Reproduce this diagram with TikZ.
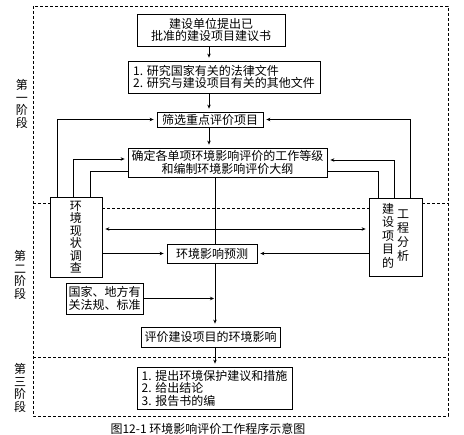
\documentclass[tikz,border=0pt]{standalone}
\usepackage{fontspec}
\setmainfont{Noto Sans CJK SC}
\usepackage{tikz}
\usetikzlibrary{positioning,arrows.meta,calc}
\newcommand{\cjksize}{\fontsize{12pt}{12.5pt}\selectfont}
\newcommand{\colstack}[1]{\begin{tabular}{@{}c@{}}#1\end{tabular}}
\tikzset{
  box/.style={draw,line width=0.8pt,inner sep=0pt,align=center,font=\cjksize},
  flow/.style={-{Stealth[length=4pt,width=3.5pt]},line width=0.8pt,shorten >=3pt},
  wire/.style={line width=0.8pt},
  stageline/.style={line width=0.8pt,dash pattern=on 3pt off 2pt},
  stagename/.style={align=center,font=\cjksize,inner sep=0pt}
}

\begin{document}
\begin{tikzpicture}[x=1pt,y=-1pt]
  \useasboundingbox (0,0) rectangle (464,435);
  % stage one
  \node[box,minimum width=148,minimum height=32] (proposal) at (211,30) {建设单位提出已\\批准的建设项目建议书};
  \node[box,align=left,minimum width=192,minimum height=32] (study) at (224,77) {1. 研究国家有关的法律文件\\2. 研究与建设项目有关的其他文件};
  \node[box,minimum width=106,minimum height=15] (screen) at (210,119.5) {筛选重点评价项目};
  \node[box,minimum width=199,minimum height=29] (grade) at (227.5,162.5) {确定各单项环境影响评价的工作等级\\和编制环境影响评价大纲};
  % stage two
  \node[box,minimum width=52,minimum height=80] (survey) at (76,237) {环\\境\\现\\状\\调\\查};
  \node[box,minimum width=53,minimum height=78] (project) at (395.5,237) {\colstack{建\\设\\项\\目\\的}\hspace{3pt}\colstack{工\\程\\分\\析}};
  \node[box,minimum width=90,minimum height=19] (predict) at (212,253.5) {环境影响预测};
  \node[box,minimum width=77,minimum height=31] (law) at (104.5,298.5) {国家、地方有\\关法规、标准};
  \node[box,minimum width=139,minimum height=20] (assess) at (210.5,337) {评价建设项目的环境影响};
  % stage three
  \node[box,align=left,minimum width=155,minimum height=42] (report) at (214.5,388) {1. 提出环境保护建议和措施\\2. 给出结论\\3. 报告书的编};
  % stage names and caption
  \node[stagename] (stage1) at (22,104) {第\\一\\阶\\段};
  \node[stagename] (stage2) at (20,275) {第\\二\\阶\\段};
  \node[stagename] (stage3) at (20,388) {第\\三\\阶\\段};
  \node[stagename] (caption) at (208,429) {图12-1\ 环境影响评价工作程序示意图};

  % dashed frame
  \coordinate (cut) at (0,203);
  \coordinate (cutin) at (0,208);
  \draw[stageline] (33,6) rectangle (448,416);
  \draw[stageline] (33,203) -- (survey.west |- cut);
  \draw[stageline] (project.east |- cut) -- (448,203);
  \draw[stageline] (survey.east |- cutin) -- (project.west |- cutin);
  \draw[stageline] (33,357) -- (448,357);

  % main flow
  \coordinate (axis) at (209,0);
  \coordinate (spine) at (215,0);
  \draw[flow] (proposal.south -| axis) -- (study.north -| axis);
  \draw[flow] (study.south -| axis) -- (screen.north -| axis);
  \draw[flow] (screen.south -| axis) -- (grade.north -| axis);
  \draw[wire] (grade.south -| spine) -- (predict.north -| spine);
  \draw[flow] (predict.south -| spine) -- (assess.north -| spine);
  \draw[flow] (assess.south -| spine) -- (report.north -| spine);
  \draw[flow,shorten >=1pt] (law.east) -- (law.east -| spine);

  % feedback from the survey
  \draw[flow] ([xshift=8pt]survey.north west) |- (screen.west);
  \draw[flow] ([xshift=24pt]survey.north west) |- ([yshift=3.5pt]grade.west);
  \draw[wire] ([xshift=41pt]survey.north west) |- ([yshift=-8.5pt]grade.west);
  % feedback from the project analysis
  \draw[flow] ([xshift=-12pt]project.north east) |- (screen.east);
  \draw[flow] ([xshift=-28pt]project.north east) |- ([yshift=2.5pt]grade.east);
  \draw[wire] ([xshift=-44pt]project.north east) |- ([yshift=-8.5pt]grade.east);

  % into the prediction
  \draw[flow,{Stealth[length=4pt,width=3.5pt]}-{Stealth[length=4pt,width=3.5pt]},shorten <=3pt] ([yshift=8pt]survey.east) -- ([yshift=8pt]project.west);
  \draw[flow] (survey.east |- predict.west) -- (predict.west);
  \draw[flow] (project.west |- predict.east) -- (predict.east);
\end{tikzpicture}
\end{document}
